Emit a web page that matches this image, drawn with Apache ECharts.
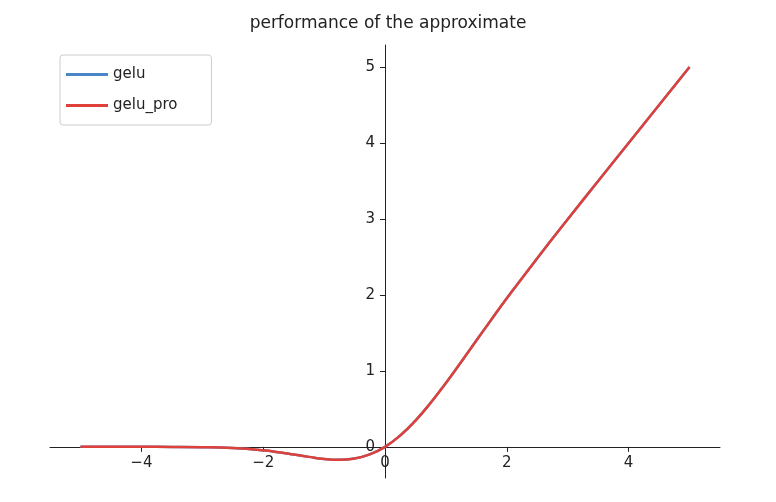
<!DOCTYPE html>
<html><head><meta charset="utf-8">
<script src="https://cdn.jsdelivr.net/npm/echarts@6/dist/echarts.min.js"></script>
<style>html,body{margin:0;background:#fff}#c{width:776px;height:502px}</style>
</head><body><div id="c"></div>
<script>
const xs = [-5,-4.5,-4,-3.5,-3,-2.5,-2,-1.75,-1.5,-1.25,-1,-0.75,-0.5,-0.25,0,0.25,0.5,0.75,1,1.25,1.5,1.75,2,2.5,3,3.5,4,4.5,5];
const gelu = [0,-0.00002,-0.0001,-0.0008,-0.004,-0.016,-0.045,-0.070,-0.100,-0.132,-0.159,-0.170,-0.154,-0.100,0,0.150,0.346,0.580,0.841,1.118,1.400,1.680,1.955,2.484,2.996,3.499,4.000,4.500,5.000];
const geluPro = [0,-0.00002,-0.0001,-0.0008,-0.004,-0.016,-0.045,-0.070,-0.100,-0.132,-0.159,-0.170,-0.154,-0.100,0,0.150,0.346,0.580,0.841,1.118,1.400,1.680,1.955,2.484,2.996,3.499,4.000,4.500,5.000];
const xTicks = [-4,-2,0,2,4];
const yTicks = [0,1,2,3,4,5];
const font = 'DejaVu Sans';
const chart = echarts.init(document.getElementById('c'));
const fmt = v => (v < 0 ? '\u2212' + Math.abs(v) : String(v));
chart.setOption({
  animation:false,
  title:{text:'performance of the approximate',left:'center',top:10,textStyle:{fontFamily:font,fontWeight:'normal',fontSize:17,color:'#222'}},
  legend:{left:60,top:55,orient:'vertical',itemWidth:42,itemHeight:3,itemGap:16,padding:[12,34,12,6],
    borderColor:'#ccc',borderWidth:1,borderRadius:3,
    textStyle:{fontFamily:font,fontSize:15,color:'#222'},
    data:[{name:'gelu',icon:'rect'},{name:'gelu_pro',icon:'rect'}]},
  grid:{left:50,right:56,top:45,bottom:24},
  xAxis:{type:'value',min:-5.5,max:5.5,
    axisLine:{onZero:true,lineStyle:{color:'#222'}},
    splitLine:{show:false},
    axisTick:{customValues:xTicks,length:5,lineStyle:{color:'#222'}},
    axisLabel:{customValues:xTicks,formatter:fmt,margin:-22,fontFamily:font,fontSize:15,color:'#222'}},
  yAxis:{type:'value',min:-0.41,max:5.29,
    axisLine:{show:true,onZero:true,lineStyle:{color:'#222'}},
    splitLine:{show:false},
    axisTick:{show:true,customValues:yTicks,length:5,lineStyle:{color:'#222'}},
    axisLabel:{customValues:yTicks,formatter:fmt,margin:-325,fontFamily:font,fontSize:15,color:'#222'}},
  series:[
    {name:'gelu',type:'line',showSymbol:false,smooth:true,data:xs.map((x,i)=>[x,gelu[i]]),lineStyle:{color:'#4a86c5',width:2.5},itemStyle:{color:'#4a86c5'}},
    {name:'gelu_pro',type:'line',showSymbol:false,smooth:true,data:xs.map((x,i)=>[x,geluPro[i]]),lineStyle:{color:'#e0403a',width:2.5},itemStyle:{color:'#e0403a'}}
  ]
});
</script></body></html>
